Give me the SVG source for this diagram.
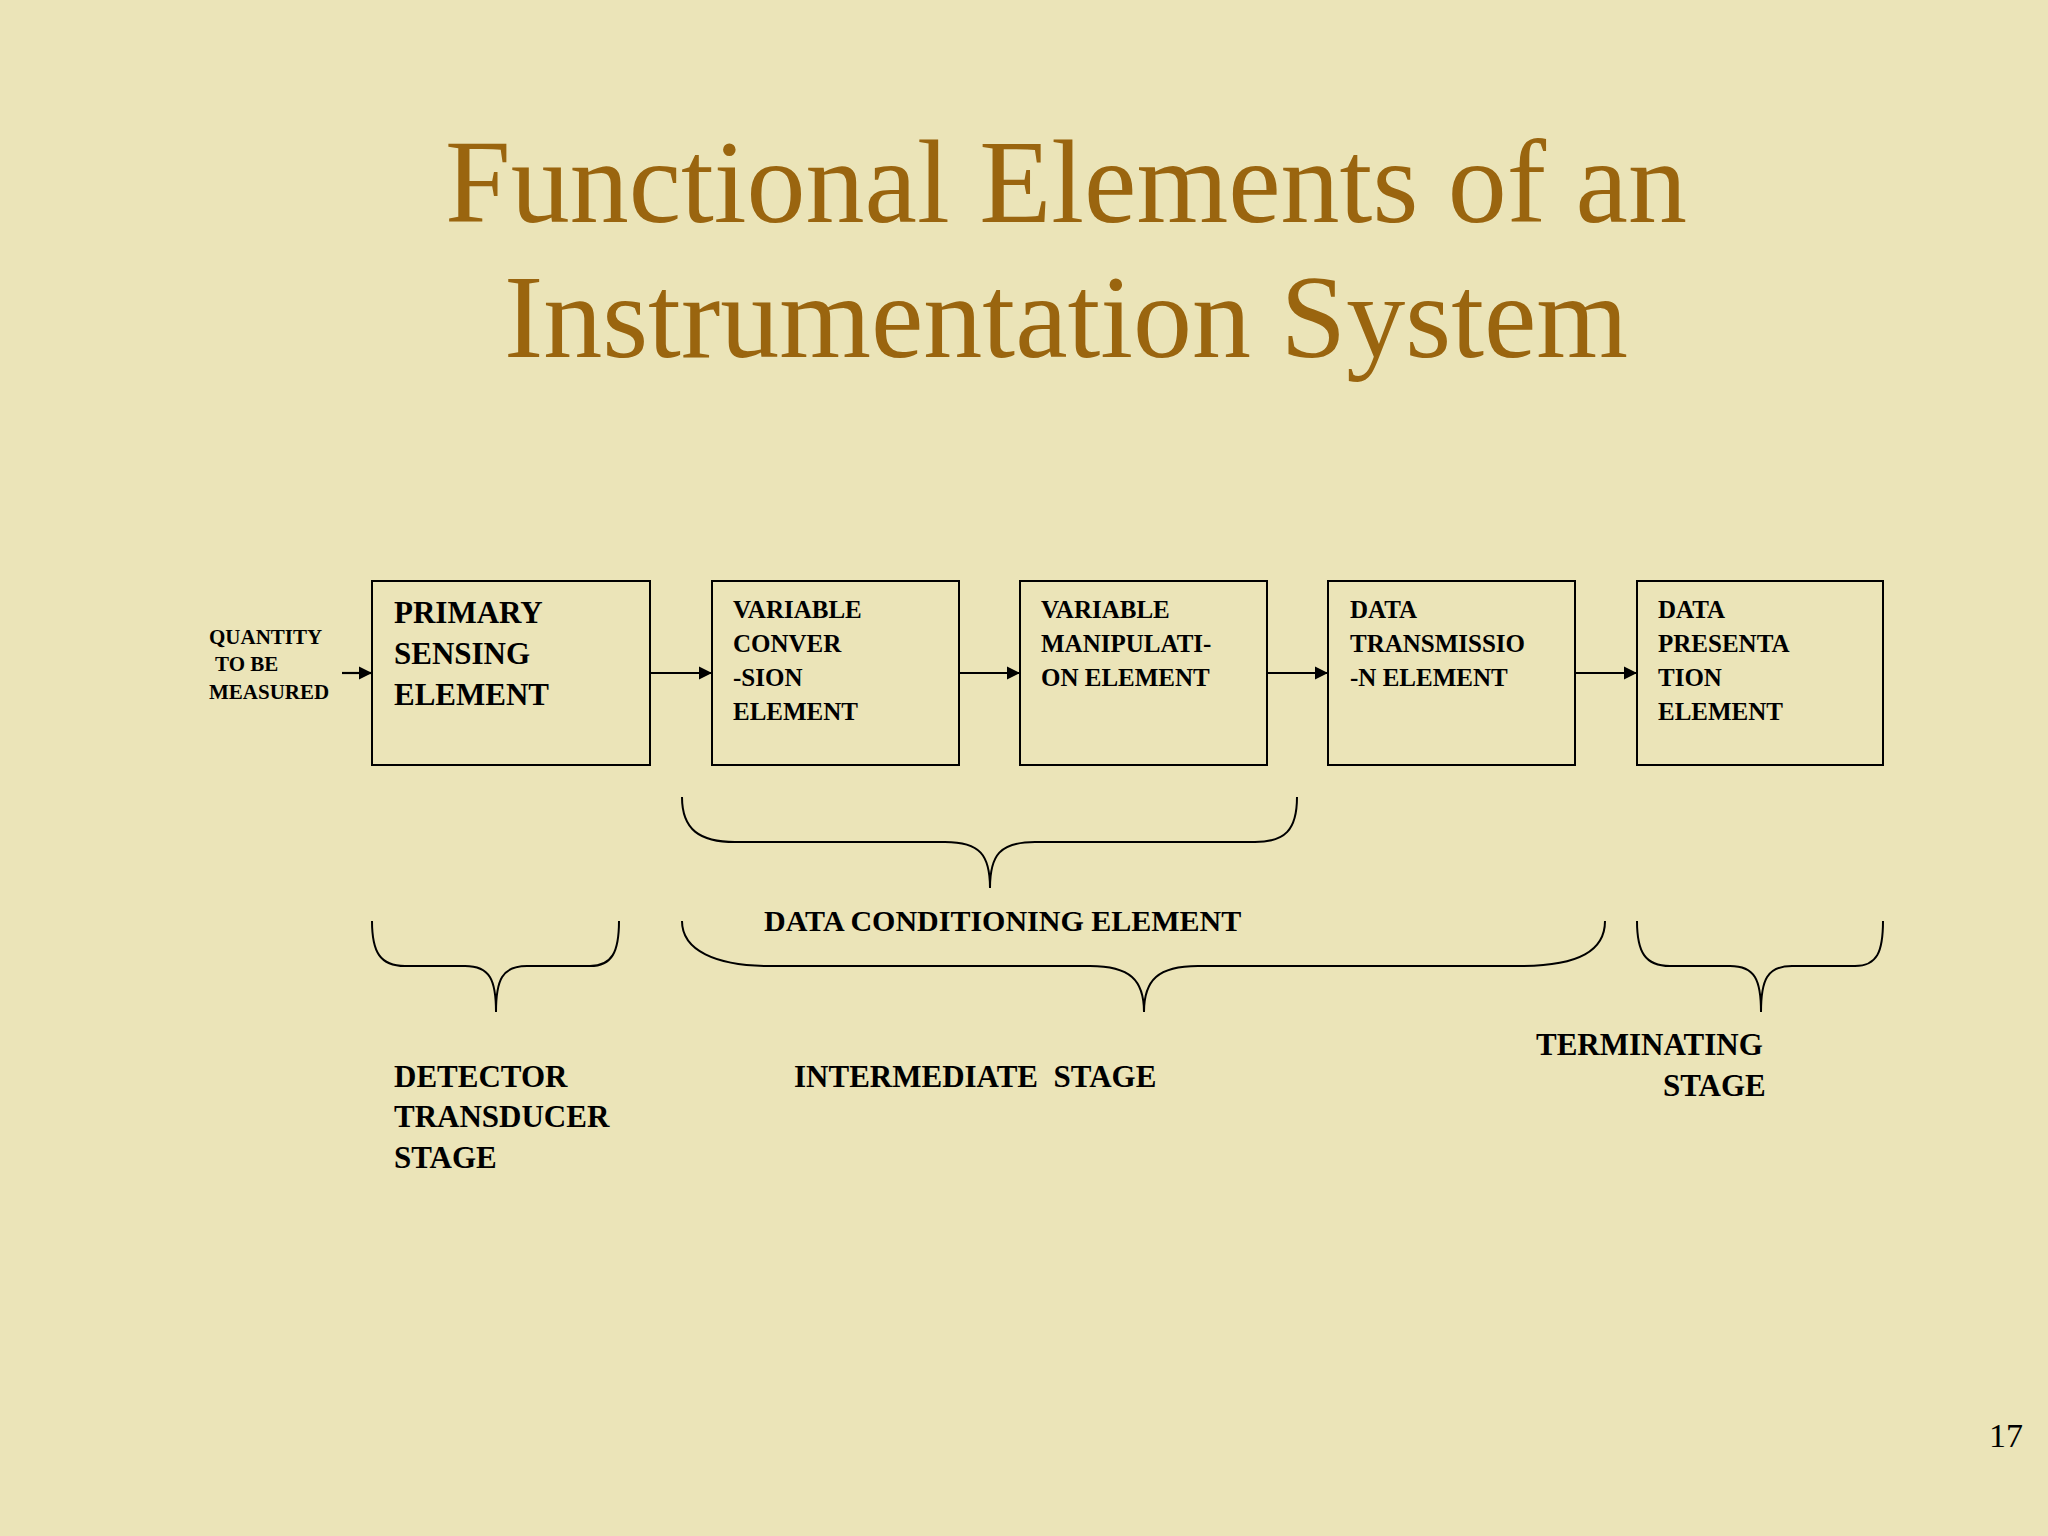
<svg xmlns="http://www.w3.org/2000/svg" width="2048" height="1536" viewBox="0 0 2048 1536">
<style>
.t{font-family:"Liberation Serif",serif;font-weight:bold;fill:#000}
.box{fill:none;stroke:#000;stroke-width:2}
.c{fill:none;stroke:#000;stroke-width:2.2}
.br{fill:none;stroke:#000;stroke-width:2}
</style>
<defs><marker id="a" viewBox="0 0 10 10" refX="10" refY="5" markerWidth="6" markerHeight="6" orient="auto"><path d="M0,0 L10,5 L0,10 z" fill="#000"/></marker></defs>
<rect width="2048" height="1536" fill="#ebe4b8"/>
<text x="1066" y="222" text-anchor="middle" font-family="Liberation Serif,serif" font-size="118" fill="#9a650f">Functional Elements of an</text>
<text x="1066" y="357" text-anchor="middle" font-family="Liberation Serif,serif" font-size="118" fill="#9a650f">Instrumentation System</text>
<g id="input"><text class="t" font-size="21"><tspan x="209" y="644">QUANTITY</tspan><tspan x="215" y="671">TO BE</tspan><tspan x="209" y="699">MEASURED</tspan></text></g>
<g id="n1"><rect class="box" x="372" y="581" width="278" height="184"/><text class="t" font-size="31"><tspan x="394" y="623">PRIMARY</tspan><tspan x="394" y="664">SENSING</tspan><tspan x="394" y="705">ELEMENT</tspan></text></g>
<g id="n2"><rect class="box" x="712" y="581" width="247" height="184"/><text class="t" font-size="25"><tspan x="733" y="618">VARIABLE</tspan><tspan x="733" y="652">CONVER</tspan><tspan x="733" y="686">-SION</tspan><tspan x="733" y="720">ELEMENT</tspan></text></g>
<g id="n3"><rect class="box" x="1020" y="581" width="247" height="184"/><text class="t" font-size="25"><tspan x="1041" y="618">VARIABLE</tspan><tspan x="1041" y="652">MANIPULATI-</tspan><tspan x="1041" y="686">ON ELEMENT</tspan></text></g>
<g id="n4"><rect class="box" x="1328" y="581" width="247" height="184"/><text class="t" font-size="25"><tspan x="1350" y="618">DATA</tspan><tspan x="1350" y="652">TRANSMISSIO</tspan><tspan x="1350" y="686">-N ELEMENT</tspan></text></g>
<g id="n5"><rect class="box" x="1637" y="581" width="246" height="184"/><text class="t" font-size="25"><tspan x="1658" y="618">DATA</tspan><tspan x="1658" y="652">PRESENTA</tspan><tspan x="1658" y="686">TION</tspan><tspan x="1658" y="720">ELEMENT</tspan></text></g>
<g id="connectors">
<line class="c" x1="342" y1="673" x2="372" y2="673" marker-end="url(#a)"/>
<line class="c" x1="650" y1="673" x2="712" y2="673" marker-end="url(#a)"/>
<line class="c" x1="959" y1="673" x2="1020" y2="673" marker-end="url(#a)"/>
<line class="c" x1="1267" y1="673" x2="1328" y2="673" marker-end="url(#a)"/>
<line class="c" x1="1575" y1="673" x2="1637" y2="673" marker-end="url(#a)"/>
</g>
<g id="braces">
<path class="br" d="M682,797 C682,830 700,842 735,842 L945,842 C980,842 990,855 990,888 C990,855 1000,842 1035,842 L1255,842 C1285,842 1297,830 1297,797"/>
<path class="br" d="M372,921 C372,952 380,966 405,966 L465,966 C490,966 496,980 496,1012 C496,980 502,966 527,966 L590,966 C612,966 619,952 619,921"/>
<path class="br" d="M682,921 C682,950 715,966 770,966 L1090,966 C1130,966 1144,980 1144,1012 C1144,980 1158,966 1198,966 L1520,966 C1580,966 1605,950 1605,921"/>
<path class="br" d="M1637,921 C1637,952 1645,966 1670,966 L1730,966 C1755,966 1761,980 1761,1012 C1761,980 1767,966 1792,966 L1855,966 C1877,966 1883,952 1883,921"/>
</g>
<g id="labels" class="t">
<text class="t" x="764" y="931" font-size="30">DATA CONDITIONING ELEMENT</text>
<text class="t" font-size="31"><tspan x="394" y="1087">DETECTOR</tspan><tspan x="394" y="1127">TRANSDUCER</tspan><tspan x="394" y="1168">STAGE</tspan></text>
<text class="t" x="794" y="1087" font-size="31" xml:space="preserve">INTERMEDIATE  STAGE</text>
<text class="t" font-size="31"><tspan x="1536" y="1055">TERMINATING</tspan><tspan x="1663" y="1096">STAGE</tspan></text>
</g>
<text x="1989" y="1447" font-family="Liberation Serif,serif" font-size="34" fill="#000">17</text>
</svg>
